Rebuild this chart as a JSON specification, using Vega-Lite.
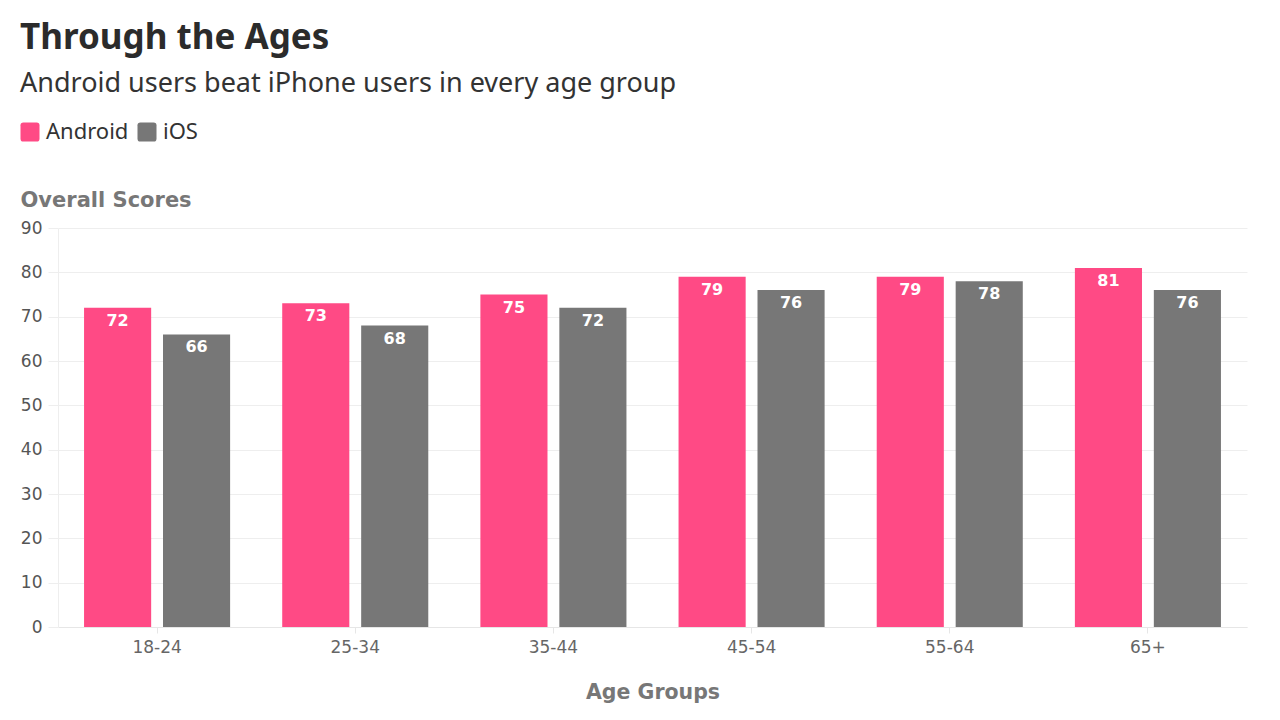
{
  "$schema": "https://vega.github.io/schema/vega-lite/v6.json",
  "autosize": "none",
  "width": 1189,
  "height": 399,
  "padding": {"left": 58, "top": 228, "right": 33, "bottom": 93},
  "background": "white",
  "config": {"view": {"stroke": null}},
  "title": {
    "text": "Through the Ages",
    "subtitle": "Android users beat iPhone users in every age group",
    "anchor": "start",
    "frame": "group",
    "dx": -38,
    "font": "Noto Sans",
    "fontSize": 35,
    "fontWeight": "bold",
    "color": "#2b2b2b",
    "subtitleFont": "Noto Sans",
    "subtitleFontSize": 27,
    "subtitleColor": "#333333",
    "subtitlePadding": 15,
    "offset": 24
  },
  "data": {
    "values": [
      {"age": "18-24", "os": "Android", "score": 72},
      {"age": "18-24", "os": "iOS", "score": 66},
      {"age": "25-34", "os": "Android", "score": 73},
      {"age": "25-34", "os": "iOS", "score": 68},
      {"age": "35-44", "os": "Android", "score": 75},
      {"age": "35-44", "os": "iOS", "score": 72},
      {"age": "45-54", "os": "Android", "score": 79},
      {"age": "45-54", "os": "iOS", "score": 76},
      {"age": "55-64", "os": "Android", "score": 79},
      {"age": "55-64", "os": "iOS", "score": 78},
      {"age": "65+", "os": "Android", "score": 81},
      {"age": "65+", "os": "iOS", "score": 76}
    ]
  },
  "encoding": {
    "x": {
      "field": "age",
      "type": "nominal",
      "sort": null,
      "scale": {"paddingInner": 0, "paddingOuter": 0},
      "title": "Age Groups",
      "axis": {
        "labelAngle": 0,
        "labelFont": "DejaVu Sans",
        "labelFontSize": 17,
        "labelColor": "#666666",
        "labelPadding": 6,
        "tickColor": "#e6e6e6",
        "tickSize": 6,
        "domainColor": "#e6e6e6",
        "titleFont": "DejaVu Sans",
        "titleFontSize": 20.5,
        "titleFontWeight": "bold",
        "titleColor": "#777777",
        "titlePadding": 27,
        "grid": false
      }
    },
    "xOffset": {
      "field": "os",
      "type": "nominal",
      "sort": ["Android", "iOS"],
      "scale": {"paddingInner": 0.15, "paddingOuter": 0.33}
    },
    "y": {
      "field": "score",
      "type": "quantitative",
      "scale": {"domain": [0, 90], "nice": false},
      "title": "Overall Scores",
      "axis": {
        "values": [0, 10, 20, 30, 40, 50, 60, 70, 80, 90],
        "labelFont": "DejaVu Sans",
        "labelFontSize": 17,
        "labelColor": "#555555",
        "labelPadding": 6,
        "tickColor": "#eeeeee",
        "tickSize": 10,
        "gridColor": "#eeeeee",
        "domainColor": "#eeeeee",
        "titleAngle": 0,
        "titleAlign": "left",
        "titleBaseline": "alphabetic",
        "titleX": -38,
        "titleY": -22,
        "titleFont": "DejaVu Sans",
        "titleFontSize": 21,
        "titleFontWeight": "bold",
        "titleColor": "#777777"
      }
    }
  },
  "layer": [
    {
      "mark": {"type": "bar"},
      "encoding": {
        "color": {
          "field": "os",
          "type": "nominal",
          "sort": ["Android", "iOS"],
          "scale": {"domain": ["Android", "iOS"], "range": ["#ff4a85", "#777777"]},
          "legend": {
            "title": null,
            "orient": "none",
            "legendX": -39,
            "legendY": -107,
            "direction": "horizontal",
            "labelFont": "Noto Sans",
            "labelFontSize": 22,
            "labelColor": "#333333",
            "labelOffset": 5,
            "columnPadding": 7,
            "symbolSize": 361,
            "symbolType": "M-0.7,-1H0.7Q1,-1 1,-0.7V0.7Q1,1 0.7,1H-0.7Q-1,1 -1,0.7V-0.7Q-1,-1 -0.7,-1Z",
            "symbolStrokeWidth": 0,
            "symbolOpacity": 1
          }
        }
      }
    },
    {
      "mark": {
        "type": "text",
        "dy": 13,
        "baseline": "middle",
        "font": "DejaVu Sans",
        "fontWeight": "bold",
        "fontSize": 16,
        "color": "white"
      },
      "encoding": {
        "text": {"field": "score", "type": "quantitative"}
      }
    }
  ]
}
